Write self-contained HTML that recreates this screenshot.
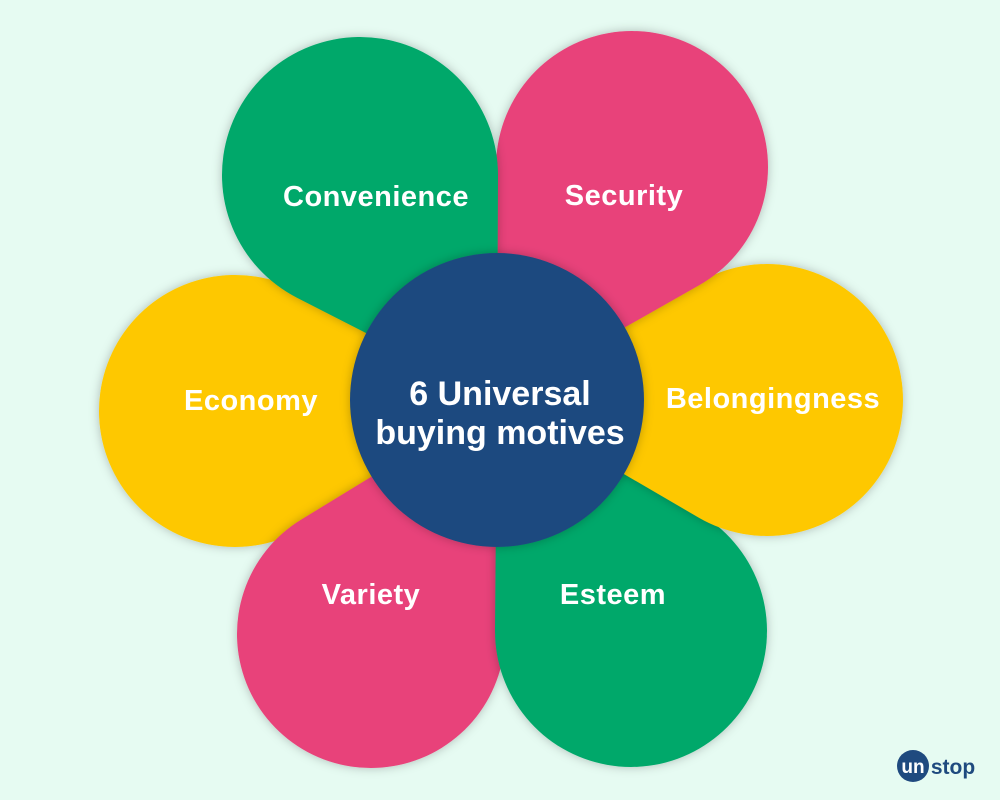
<!DOCTYPE html>
<html><head><meta charset="utf-8"><style>
html,body{margin:0;padding:0;width:1000px;height:800px;overflow:hidden;background:#e6fbf2;}
svg{display:block}
text{font-family:"Liberation Sans",sans-serif;font-weight:bold;fill:#fff;text-anchor:middle}
</style></head><body>
<svg id="s" width="1000" height="800" viewBox="0 0 1000 800">
<defs><filter id="sh" x="-20%" y="-20%" width="140%" height="140%"><feDropShadow dx="0" dy="0" stdDeviation="5" flood-color="#000" flood-opacity="0.25"/></filter></defs>
<g id="petals"></g>
<circle cx="497" cy="400" r="147" fill="#1f4a7f" filter="url(#sh)"/>
<g font-size="29" letter-spacing="0.5">
<text x="251" y="410">Economy</text>
<text x="371" y="604">Variety</text>
<text x="613" y="604">Esteem</text>
<text x="773" y="408">Belongingness</text>
<text x="624" y="205">Security</text>
<text x="376" y="206">Convenience</text>
</g>
<text x="500" y="405" font-size="34">6 Universal</text>
<text x="500" y="444" font-size="34">buying motives</text>
<circle cx="913" cy="766" r="16" fill="#1f4a7f"/>
<text x="913" y="773" font-size="19">un</text>
<text x="953" y="774" font-size="21" style="fill:#1f4a7f">stop</text>
</svg>
<script>
var ax=497,ay=400;
var P=[[235,411,136,"#fec802"],[371,634,134,"#e8427a"],[631,631,136,"#03a86a"],[767,400,136,"#fec802"],[632,167,136,"#e8427a"],[360,175,138,"#03a86a"]];
var g=document.getElementById('petals'),h='';
P.forEach(function(p){var cx=p[0],cy=p[1],r=p[2];var dx=ax-cx,dy=ay-cy,d=Math.hypot(dx,dy);
var a=Math.atan2(dy,dx),b=Math.acos(r/d);
var x1=cx+r*Math.cos(a+b),y1=cy+r*Math.sin(a+b),x2=cx+r*Math.cos(a-b),y2=cy+r*Math.sin(a-b);
h+='<path filter="url(#sh)" fill="'+p[3]+'" d="M'+ax+' '+ay+' L'+x1+' '+y1+' A'+r+' '+r+' 0 1 1 '+x2+' '+y2+' Z"/>';});
g.innerHTML=h;
</script>
</body></html>
